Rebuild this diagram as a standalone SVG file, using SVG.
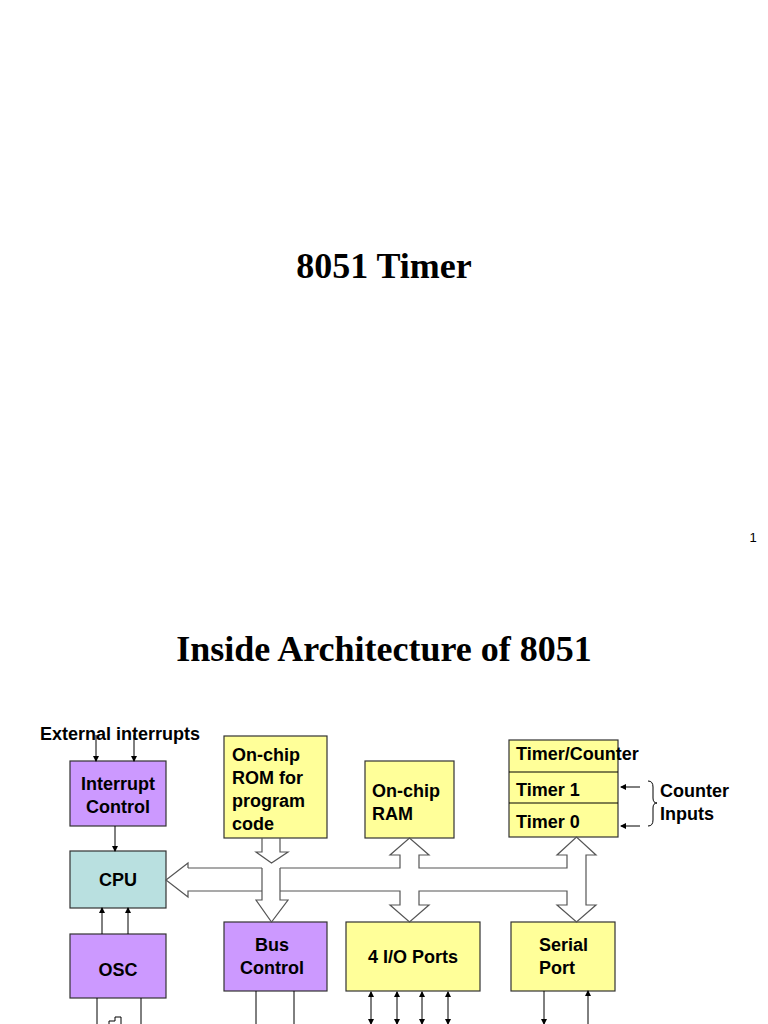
<svg xmlns="http://www.w3.org/2000/svg" width="768" height="1024" viewBox="0 0 768 1024">
<style>
.t{font-family:"Liberation Serif",serif;font-weight:bold;font-size:36px;fill:#000}
.s{font-family:"Liberation Sans",Arial,sans-serif;font-weight:bold;font-size:18px;fill:#000}
.p{fill:#cc99ff;stroke:#333;stroke-width:1.2}
.y{fill:#ffff99;stroke:#333;stroke-width:1.2}
.c{fill:#b9e0e0;stroke:#333;stroke-width:1.2}
.l{stroke:#000;stroke-width:1;fill:none}
.b{stroke:#555;stroke-width:1.2;fill:none}
</style>
<defs>
<marker id="a" markerWidth="6" markerHeight="6" refX="5" refY="3" orient="auto-start-reverse" markerUnits="userSpaceOnUse"><path d="M0,0 L6,3 L0,6 z" fill="#000"/></marker>
</defs>
<rect width="768" height="1024" fill="#fff"/>
<text class="t" x="384" y="278" text-anchor="middle">8051 Timer</text>
<text x="753" y="542" font-family="Liberation Sans,sans-serif" font-size="13" text-anchor="middle">1</text>
<text class="t" x="384" y="661" text-anchor="middle" font-size="33">Inside Architecture of 8051</text>
<text class="s" x="40" y="740">External interrupts</text>
<g id="int"><rect class="p" x="70" y="761" width="96" height="65"/><text class="s" x="118" y="790" text-anchor="middle">Interrupt</text><text class="s" x="118" y="813" text-anchor="middle">Control</text></g>
<g id="cpu"><rect class="c" x="70" y="851" width="96" height="57"/><text class="s" x="118" y="886" text-anchor="middle">CPU</text></g>
<g id="osc"><rect class="p" x="70" y="934" width="96" height="64"/><text class="s" x="118" y="976" text-anchor="middle">OSC</text></g>
<g id="rom"><rect class="y" x="224" y="736" width="103" height="102"/><text class="s" x="232" y="761">On-chip</text><text class="s" x="232" y="784">ROM for</text><text class="s" x="232" y="807">program</text><text class="s" x="232" y="830">code</text></g>
<g id="ram"><rect class="y" x="365" y="761" width="89" height="77"/><text class="s" x="372" y="797">On-chip</text><text class="s" x="372" y="820">RAM</text></g>
<g id="timer"><rect class="y" x="509" y="740" width="109" height="97"/><line class="l" x1="509" y1="772" x2="618" y2="772"/><line class="l" x1="509" y1="803" x2="618" y2="803" stroke-width="2"/><text class="s" x="516" y="760" font-size="14">Timer/Counter</text><text class="s" x="516" y="796">Timer 1</text><text class="s" x="516" y="828">Timer 0</text></g>
<g id="busctl"><rect class="p" x="224" y="922" width="103" height="69"/><text class="s" x="272" y="951" text-anchor="middle">Bus</text><text class="s" x="272" y="974" text-anchor="middle">Control</text></g>
<g id="io"><rect class="y" x="346" y="922" width="134" height="69"/><text class="s" x="413" y="963" text-anchor="middle">4 I/O Ports</text></g>
<g id="serial"><rect class="y" x="511" y="922" width="104" height="69"/><text class="s" x="539" y="951">Serial</text><text class="s" x="539" y="974">Port</text></g>
<text class="s" x="660" y="797">Counter</text><text class="s" x="660" y="820">Inputs</text>
<g id="connectors">
<path class="b" d="M262,838 V852 H256 L271.5,863 L288,852 H280 V838"/>
<path class="b" d="M188,868 H262 M280,868 H400 V855 H390 L409.5,838 L429,855 H419 V868 H567 V855 H557 L576.5,837 L596,855 H586 V905 H596 L576.5,922 L557,905 H567 V891 H419 V905 H429 L409.5,922 L390,905 H400 V891 H280 V900 H288 L271.5,922 L256,900 H262 V891 H188 V897 L166,880 L188,863 V868 M262,868 V891 M280,868 V891"/>
<line class="l" x1="96" y1="735" x2="96" y2="761" marker-end="url(#a)"/>
<line class="l" x1="134" y1="735" x2="134" y2="761" marker-end="url(#a)"/>
<line class="l" x1="115" y1="826" x2="115" y2="851" marker-end="url(#a)"/>
<line class="l" x1="102" y1="934" x2="102" y2="908" marker-end="url(#a)"/>
<line class="l" x1="128" y1="934" x2="128" y2="908" marker-end="url(#a)"/>
<line class="l" x1="97" y1="998" x2="97" y2="1024"/>
<line class="l" x1="141" y1="998" x2="141" y2="1024" stroke="#666"/>
<path class="l" d="M109,1024 V1021 H115 V1017 H121 V1024"/>
<line class="l" x1="256" y1="991" x2="256" y2="1024"/>
<line class="l" x1="294" y1="991" x2="294" y2="1024"/>
<line class="l" x1="371" y1="992" x2="371" y2="1024" marker-start="url(#a)" marker-end="url(#a)"/>
<line class="l" x1="397" y1="992" x2="397" y2="1024" marker-start="url(#a)" marker-end="url(#a)"/>
<line class="l" x1="422" y1="992" x2="422" y2="1024" marker-start="url(#a)" marker-end="url(#a)"/>
<line class="l" x1="448" y1="992" x2="448" y2="1024" marker-start="url(#a)" marker-end="url(#a)"/>
<line class="l" x1="544" y1="991" x2="544" y2="1024" marker-end="url(#a)"/>
<line class="l" x1="588" y1="1024" x2="588" y2="991" marker-end="url(#a)"/>
<line class="l" x1="640" y1="787" x2="621" y2="787" marker-end="url(#a)"/>
<line class="l" x1="640" y1="826" x2="621" y2="826" marker-end="url(#a)"/>
<path class="l" d="M648,781 Q653,781 653,787 V798 Q653,803 657,803 Q653,803 653,808 V820 Q653,826 648,826" stroke="#555"/>
</g>
</svg>
